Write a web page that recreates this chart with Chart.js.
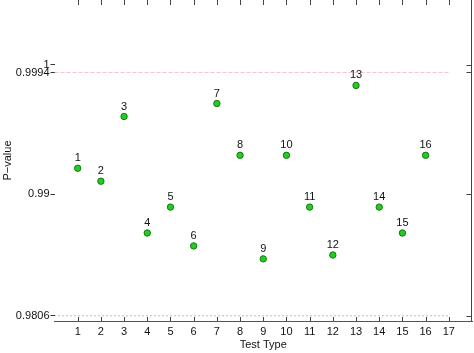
<!DOCTYPE html>
<html><head><meta charset="utf-8">
<script src="https://cdn.jsdelivr.net/npm/chart.js@4.4.1/dist/chart.umd.min.js"></script>
<style>html,body{margin:0;padding:0;background:#fff}#wrap{width:474px;height:353px}</style>
</head><body><div id="wrap"><canvas id="c" width="474" height="353"></canvas></div>
<script>
const testTypes = [1,2,3,4,5,6,7,8,9,10,11,12,13,14,15,16];
const pValues = [0.9920,0.9910,0.9960,0.9870,0.9890,0.9860,0.9970,0.9930,0.9850,0.9930,0.9890,0.9853,0.9984,0.9890,0.9870,0.9930];
const xTicks = [1,2,3,4,5,6,7,8,9,10,11,12,13,14,15,16,17];
const yTicks = [0.9806,0.99,0.9994,1];
const upperLevel = 0.9994;
const lowerLevel = 0.9806;
const lineSpan = [0,17];

const FONT = '"Liberation Sans", Arial, sans-serif';

const frame = {
  id:'frame',
  afterDatasetsDraw(chart){
    const ctx = chart.ctx, a = chart.chartArea, xs = chart.scales.x, ys = chart.scales.y;
    const top = Math.max(a.top, 0);
    ctx.save();
    ctx.strokeStyle = '#444'; ctx.lineWidth = 1;
    ctx.beginPath();
    const rx = Math.round(a.right) - 0.5;
    ctx.moveTo(rx, top); ctx.lineTo(rx, a.bottom);
    xTicks.forEach(v => {
      const px = Math.round(xs.getPixelForValue(v)) + 0.5;
      ctx.moveTo(px, a.bottom); ctx.lineTo(px, a.bottom - 4);
      ctx.moveTo(px, top); ctx.lineTo(px, top + 5);
    });
    yTicks.forEach(v => {
      const py = Math.round(ys.getPixelForValue(v)) + 0.5;
      ctx.moveTo(rx, py); ctx.lineTo(rx - 5, py);
    });
    ctx.stroke();
    // point labels
    const meta = chart.getDatasetMeta(0);
    ctx.fillStyle = '#111';
    ctx.font = '11px ' + FONT;
    ctx.textAlign = 'center'; ctx.textBaseline = 'middle';
    meta.data.forEach((el, i) => {
      ctx.fillText(String(testTypes[i]), el.x, el.y - 10);
    });
    ctx.restore();
  }
};

new Chart(document.getElementById('c'), {
  type: 'scatter',
  data: {
    datasets: [
      {
        label: 'P-value',
        data: testTypes.map((t,i)=>({x:t, y:pValues[i]})),
        backgroundColor: '#22cc22',
        borderColor: '#137a13',
        borderWidth: 1,
        pointRadius: 3.2,
        order: 0
      },
      {
        type: 'line',
        data: lineSpan.map(x=>({x, y:upperLevel})),
        borderColor: '#f5c4c8',
        borderWidth: 1,
        borderDash: [4,2],
        pointRadius: 0,
        order: 2
      },
      {
        type: 'line',
        data: lineSpan.map(x=>({x, y:lowerLevel})),
        borderColor: '#777',
        borderWidth: 1,
        borderDash: [1,3],
        pointRadius: 0,
        order: 1
      }
    ]
  },
  options: {
    responsive: false,
    animation: false,
    devicePixelRatio: 1,
    layout: { autoPadding: false, padding: { top: 0, right: 2, left: 0, bottom: 0 } },
    plugins: { legend: { display: false }, tooltip: { enabled: false } },
    scales: {
      x: {
        type: 'linear', min: 0, max: 18,
        afterBuildTicks: s => { s.ticks = xTicks.map(v=>({value:v})); },
        afterFit: s => { s.height = 32; s.paddingLeft = 0; s.paddingRight = 0; s.paddingTop = 0; s.paddingBottom = 0; },
        grid: { display: false, drawTicks: false },
        border: { display: true, color: '#555', width: 1 },
        ticks: { font: { size: 11, family: FONT }, color: '#111', padding: 4, autoSkip: false, maxRotation: 0 },
        title: { display: true, text: 'Test Type', font: { size: 11, family: FONT }, color: '#111', padding: { top: 0, bottom: 1 } }
      },
      y: {
        type: 'linear', min: 0.9802, max: 1.005,
        afterBuildTicks: s => { s.ticks = yTicks.map(v=>({value:v})); },
        afterFit: s => { s.width = 54.5; s.paddingTop = 0; s.paddingBottom = 0; },
        grid: { display: true, drawOnChartArea: false, drawTicks: true, tickLength: 4, color: '#333' },
        border: { display: false },
        ticks: { font: { size: 11, family: FONT }, color: '#111', padding: 1, autoSkip: false,
          callback: v => String(v) },
        title: { display: true, text: 'P\u2212value', font: { size: 11, family: FONT }, color: '#111', padding: { top: 1, bottom: 0 } }
      }
    }
  },
  plugins: [frame]
});
</script></body></html>
